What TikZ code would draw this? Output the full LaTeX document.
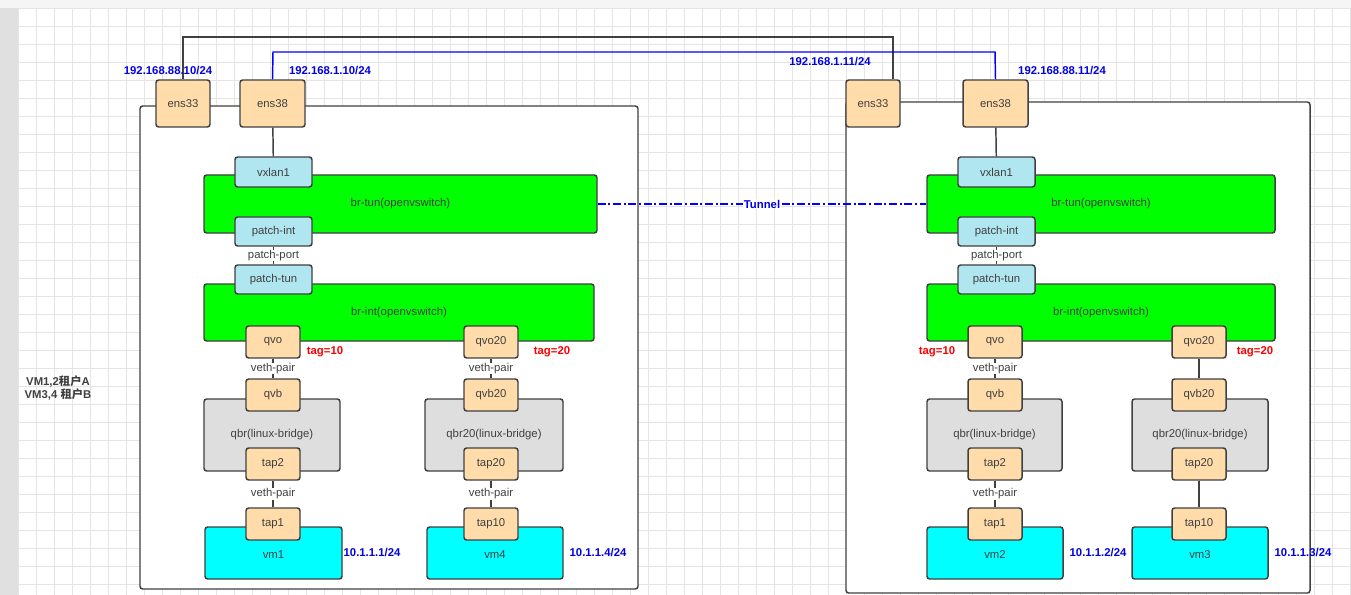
\documentclass[tikz,border=0pt]{standalone}
\usepackage{fontspec}
\setmainfont{Liberation Sans}
\newfontfamily\cjk{Noto Sans CJK SC}
\begin{document}
\begin{tikzpicture}[x=0.75pt,y=-0.75pt,
  bx/.style={draw=black!75,line width=1.1pt,rounded corners=2pt,inner sep=0,font=\fontsize{8.5}{9}\selectfont,text=black!75},
  eth/.style={bx,fill={rgb,255:red,255;green,220;blue,170}},
  cyanp/.style={bx,fill={rgb,255:red,176;green,230;blue,240}},
  ovs/.style={bx,fill={rgb,255:red,0;green,255;blue,0}},
  lbr/.style={bx,fill=black!13},
  vm/.style={bx,fill={rgb,255:red,0;green,255;blue,255}},
  cont/.style={draw=black!75,line width=1.1pt,rounded corners=2pt},
  ln/.style={draw=black!75,line width=1.1pt},
  lab/.style={font=\fontsize{8.5}{9}\selectfont,text=black!75,fill=white,inner sep=0.5pt},
  ip/.style={font=\bfseries\fontsize{8.5}{9}\selectfont,text=blue!90!black},
  tag/.style={font=\bfseries\fontsize{8.5}{9}\selectfont,text=red}]
\newcommand\bx[7]{\node[#6,minimum width={(#4-#2)*0.75pt},minimum height={(#5-#3)*0.75pt}] (#1) at ({(#2+#4)/2},{(#3+#5)/2}) {#7};}
\useasboundingbox (0,0) rectangle (1351,595);
\fill[black!4] (0,0) rectangle (1351,8);
\fill[black!12] (0,8) rectangle (18,595);
\foreach \x in {18,36,...,1351} \draw[black!10,line width=0.5pt] (\x,8)--(\x,595);
\foreach \y in {8,26,...,595} \draw[black!10,line width=0.5pt] (18,\y)--(1351,\y);
\draw[cont,fill=white] (140,106) rectangle (638,589);
\draw[cont,fill=white] (846,102) rectangle (1310,593);
\bx{ensLa}{156}{80}{210}{127}{eth}{ens33}
\bx{ensLb}{240}{80}{305}{127}{eth}{ens38}
\bx{ensRa}{846}{80}{900}{127}{eth}{ens33}
\bx{ensRb}{963}{80}{1028}{127}{eth}{ens38}
\coordinate (ka) at (183,37); \coordinate (kb) at (893,37);
\draw[ln] (ensLa.north) -- (ka) -- (kb) -- (ensRa.north-|kb);
\coordinate (ba) at (273,52); \coordinate (bb) at (995,52);
\draw[blue,line width=1.1pt] (ensLb.north) -- (ba) -- (bb) -- (ensRb.north);
\node[ip] at (168,71) {192.168.88.10/24};
\node[ip] at (330,71) {192.168.1.10/24};
\node[ip] at (830,62) {192.168.1.11/24};
\node[ip] at (1062,71) {192.168.88.11/24};
\bx{tunL}{204}{175}{597}{233}{ovs}{br-tun(openvswitch)}
\bx{vxL}{235}{157}{312}{187}{cyanp}{vxlan1}
\bx{piL}{235}{217}{312}{246}{cyanp}{patch-int}
\bx{intL}{204}{284}{594}{341}{ovs}{br-int(openvswitch)}
\bx{ptL}{235}{265}{312}{294}{cyanp}{patch-tun}
\bx{qbrL}{204}{399}{340}{471}{lbr}{qbr(linux-bridge)}
\bx{qbr2L}{425}{399}{563}{471}{lbr}{qbr20(linux-bridge)}
\bx{vm1}{205}{527}{342}{579}{vm}{\raisebox{-8pt}{vm1}}
\bx{vm4}{427}{527}{563}{579}{vm}{\raisebox{-8pt}{vm4}}
\bx{qvoL}{246}{326}{300}{358}{eth}{qvo}
\bx{qvo2L}{464}{326}{518}{358}{eth}{qvo20}
\bx{qvbL}{246}{379}{300}{411}{eth}{qvb}
\bx{qvb2L}{464}{379}{518}{411}{eth}{qvb20}
\bx{tap2L}{246}{448}{300}{480}{eth}{tap2}
\bx{tap20L}{464}{448}{518}{480}{eth}{tap20}
\bx{tap1L}{246}{508}{300}{540}{eth}{tap1}
\bx{tap10L}{464}{508}{518}{540}{eth}{tap10}
\draw[ln] (ensLb) -- (vxL);
\draw[ln] (piL) -- node[lab]{patch-port} (ptL);
\draw[ln] (qvoL) -- node[lab]{veth-pair} (qvbL);
\draw[ln] (qvo2L) -- node[lab]{veth-pair} (qvb2L);
\draw[ln] (tap2L) -- node[lab]{veth-pair} (tap1L);
\draw[ln] (tap20L) -- node[lab]{veth-pair} (tap10L);
\node[tag] at (325,352) {tag=10};
\node[tag] at (552,352) {tag=20};
\node[ip] at (372,553) {10.1.1.1/24};
\node[ip] at (598,553) {10.1.1.4/24};
\bx{tunR}{927}{175}{1275}{233}{ovs}{br-tun(openvswitch)}
\bx{vxR}{958}{157}{1035}{187}{cyanp}{vxlan1}
\bx{piR}{958}{217}{1035}{246}{cyanp}{patch-int}
\bx{intR}{927}{284}{1275}{341}{ovs}{br-int(openvswitch)}
\bx{ptR}{958}{265}{1035}{294}{cyanp}{patch-tun}
\bx{qbrR}{927}{399}{1062}{471}{lbr}{qbr(linux-bridge)}
\bx{qbr2R}{1132}{399}{1268}{471}{lbr}{qbr20(linux-bridge)}
\bx{vm2}{927}{527}{1063}{579}{vm}{\raisebox{-8pt}{vm2}}
\bx{vm3}{1132}{527}{1268}{579}{vm}{\raisebox{-8pt}{vm3}}
\bx{qvoR}{968}{326}{1022}{358}{eth}{qvo}
\bx{qvo2R}{1172}{326}{1226}{358}{eth}{qvo20}
\bx{qvbR}{968}{379}{1022}{411}{eth}{qvb}
\bx{qvb2R}{1172}{379}{1226}{411}{eth}{qvb20}
\bx{tap2R}{968}{448}{1022}{480}{eth}{tap2}
\bx{tap20R}{1172}{448}{1226}{480}{eth}{tap20}
\bx{tap1R}{968}{508}{1022}{540}{eth}{tap1}
\bx{tap10R}{1172}{508}{1226}{540}{eth}{tap10}
\draw[ln] (ensRb) -- (vxR);
\draw[ln] (piR) -- node[lab]{patch-port} (ptR);
\draw[ln] (qvoR) -- node[lab]{veth-pair} (qvbR);
\draw[ln] (qvo2R) -- (qvb2R);
\draw[ln] (tap2R) -- node[lab]{veth-pair} (tap1R);
\draw[ln] (tap20R) -- (tap10R);
\node[tag] at (937,352) {tag=10};
\node[tag] at (1255,352) {tag=20};
\node[ip] at (1098,553) {10.1.1.2/24};
\node[ip] at (1303,553) {10.1.1.3/24};
\draw[blue,line width=1.1pt,dash pattern=on 6pt off 2pt on 1.5pt off 2pt] (tunL.east) -- node[ip,fill=white,inner sep=1pt]{Tunnel} (tunR.west);
\node[font=\bfseries\fontsize{8.5}{9.5}\selectfont,text=black!75,align=center] at (58,388) {VM1,2{\cjk 租户}A\\VM3,4 {\cjk 租户}B};
\end{tikzpicture}
\end{document}
